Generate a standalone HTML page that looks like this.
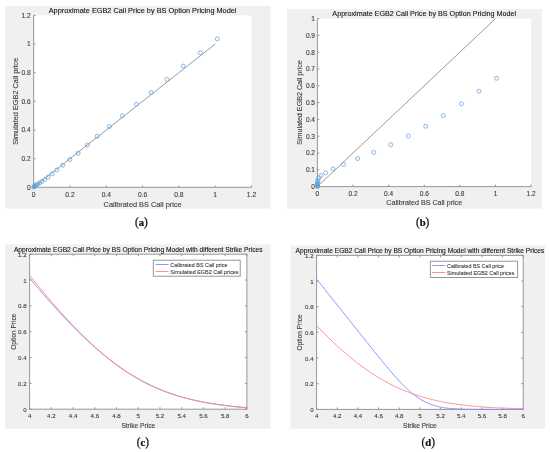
<!DOCTYPE html>
<html><head><meta charset="utf-8"><title>Figure</title>
<style>html,body{margin:0;padding:0;background:#fff;}svg{display:block;}text{stroke-width:0.1;}</style></head>
<body><svg width="550" height="452" viewBox="0 0 550 452">
<g>
<rect width="550" height="452" fill="#fff"/>
<rect x="5" y="5.8" width="265.6" height="202.79999999999998" fill="#f0f0f0"/>
<rect x="33.7" y="15.4" width="217.8" height="171.9" fill="#fff"/>
<g stroke="#8c8c8c" stroke-width="0.9" fill="none">
<path d="M33.7,15.4 L33.7,187.3 L251.5,187.3"/>
<path d="M33.70,187.3 l0,-2"/>
<path d="M70.00,187.3 l0,-2"/>
<path d="M106.30,187.3 l0,-2"/>
<path d="M142.60,187.3 l0,-2"/>
<path d="M178.90,187.3 l0,-2"/>
<path d="M215.20,187.3 l0,-2"/>
<path d="M251.50,187.3 l0,-2"/>
<path d="M33.7,187.30 l2,0"/>
<path d="M33.7,158.65 l2,0"/>
<path d="M33.7,130.00 l2,0"/>
<path d="M33.7,101.35 l2,0"/>
<path d="M33.7,72.70 l2,0"/>
<path d="M33.7,44.05 l2,0"/>
<path d="M33.7,15.40 l2,0"/>
</g>
<svg x="32.7" y="14.4" width="219.8" height="173.9" viewBox="32.7 14.4 219.8 173.9" overflow="hidden">
<path d="M33.70,187.30 L215.20,44.05" fill="none" stroke="#555" stroke-width="0.6" stroke-linejoin="round"/>
</svg>
<circle cx="217.38" cy="38.89" r="2.0" fill="none" stroke="#5fa2dc" stroke-width="0.75"/>
<circle cx="200.32" cy="52.79" r="2.0" fill="none" stroke="#5fa2dc" stroke-width="0.75"/>
<circle cx="183.26" cy="66.11" r="2.0" fill="none" stroke="#5fa2dc" stroke-width="0.75"/>
<circle cx="166.92" cy="79.43" r="2.0" fill="none" stroke="#5fa2dc" stroke-width="0.75"/>
<circle cx="151.13" cy="92.47" r="2.0" fill="none" stroke="#5fa2dc" stroke-width="0.75"/>
<circle cx="136.43" cy="104.22" r="2.0" fill="none" stroke="#5fa2dc" stroke-width="0.75"/>
<circle cx="122.27" cy="115.82" r="2.0" fill="none" stroke="#5fa2dc" stroke-width="0.75"/>
<circle cx="109.39" cy="126.56" r="2.0" fill="none" stroke="#5fa2dc" stroke-width="0.75"/>
<circle cx="97.23" cy="136.30" r="2.0" fill="none" stroke="#5fa2dc" stroke-width="0.75"/>
<circle cx="87.24" cy="145.04" r="2.0" fill="none" stroke="#5fa2dc" stroke-width="0.75"/>
<circle cx="78.17" cy="153.21" r="2.0" fill="none" stroke="#5fa2dc" stroke-width="0.75"/>
<circle cx="69.82" cy="159.51" r="2.0" fill="none" stroke="#5fa2dc" stroke-width="0.75"/>
<circle cx="62.74" cy="165.24" r="2.0" fill="none" stroke="#5fa2dc" stroke-width="0.75"/>
<circle cx="56.93" cy="169.97" r="2.0" fill="none" stroke="#5fa2dc" stroke-width="0.75"/>
<circle cx="52.21" cy="173.83" r="2.0" fill="none" stroke="#5fa2dc" stroke-width="0.75"/>
<circle cx="48.04" cy="177.13" r="2.0" fill="none" stroke="#5fa2dc" stroke-width="0.75"/>
<circle cx="44.77" cy="179.42" r="2.0" fill="none" stroke="#5fa2dc" stroke-width="0.75"/>
<circle cx="41.87" cy="181.43" r="2.0" fill="none" stroke="#5fa2dc" stroke-width="0.75"/>
<circle cx="39.69" cy="182.86" r="2.0" fill="none" stroke="#5fa2dc" stroke-width="0.75"/>
<circle cx="37.69" cy="184.01" r="2.0" fill="none" stroke="#5fa2dc" stroke-width="0.75"/>
<circle cx="36.24" cy="184.86" r="2.0" fill="none" stroke="#5fa2dc" stroke-width="0.75"/>
<circle cx="35.33" cy="185.58" r="2.0" fill="none" stroke="#5fa2dc" stroke-width="0.75"/>
<circle cx="34.61" cy="186.15" r="2.0" fill="none" stroke="#5fa2dc" stroke-width="0.75"/>
<circle cx="34.24" cy="186.58" r="2.0" fill="none" stroke="#5fa2dc" stroke-width="0.75"/>
<circle cx="33.88" cy="187.01" r="2.0" fill="none" stroke="#5fa2dc" stroke-width="0.75"/>
<g font-family='"Liberation Sans", Arial, Helvetica, sans-serif' font-size="6.7" fill="#3a3a3a" stroke="#3a3a3a">
<text x="33.70" y="197.2" text-anchor="middle">0</text>
<text x="70.00" y="197.2" text-anchor="middle">0.2</text>
<text x="106.30" y="197.2" text-anchor="middle">0.4</text>
<text x="142.60" y="197.2" text-anchor="middle">0.6</text>
<text x="178.90" y="197.2" text-anchor="middle">0.8</text>
<text x="215.20" y="197.2" text-anchor="middle">1</text>
<text x="251.50" y="197.2" text-anchor="middle">1.2</text>
<text x="30.700000000000003" y="189.70" text-anchor="end">0</text>
<text x="30.700000000000003" y="161.05" text-anchor="end">0.2</text>
<text x="30.700000000000003" y="132.40" text-anchor="end">0.4</text>
<text x="30.700000000000003" y="103.75" text-anchor="end">0.6</text>
<text x="30.700000000000003" y="75.10" text-anchor="end">0.8</text>
<text x="30.700000000000003" y="46.45" text-anchor="end">1</text>
<text x="30.700000000000003" y="17.80" text-anchor="end">1.2</text>
</g>
<g font-family='"Liberation Sans", Arial, Helvetica, sans-serif' font-size="7.35" fill="#3a3a3a" stroke="#3a3a3a" text-anchor="middle">
<text x="142.6" y="206.8">Calibrated BS Call price</text>
<text transform="translate(17.9,101.35000000000001) rotate(-90)" x="0" y="0">Simulated EGB2 Call price</text>
</g>
<text x="142.6" y="12.6" font-family='"Liberation Sans", Arial, Helvetica, sans-serif' font-size="7.33" fill="#111" stroke="#111" text-anchor="middle">Approximate EGB2 Call Price by BS Option Pricing Model</text>
<text transform="translate(141.3,225.9) scale(0.97,1)" x="0" y="0" font-family='"Liberation Serif", "Times New Roman", serif' font-size="11.6" fill="#111" stroke="#111" style="stroke-width:0.25" text-anchor="middle">(<tspan font-weight="700" font-size="11">a</tspan>)</text>
<rect x="287" y="9" width="255" height="199.6" fill="#f0f0f0"/>
<rect x="317.4" y="18.6" width="213.70000000000005" height="168.0" fill="#fff"/>
<g stroke="#8c8c8c" stroke-width="0.9" fill="none">
<path d="M317.4,18.6 L317.4,186.6 L531.1,186.6"/>
<path d="M317.40,186.6 l0,-2"/>
<path d="M353.02,186.6 l0,-2"/>
<path d="M388.63,186.6 l0,-2"/>
<path d="M424.25,186.6 l0,-2"/>
<path d="M459.87,186.6 l0,-2"/>
<path d="M495.48,186.6 l0,-2"/>
<path d="M531.10,186.6 l0,-2"/>
<path d="M317.4,186.60 l2,0"/>
<path d="M317.4,169.80 l2,0"/>
<path d="M317.4,153.00 l2,0"/>
<path d="M317.4,136.20 l2,0"/>
<path d="M317.4,119.40 l2,0"/>
<path d="M317.4,102.60 l2,0"/>
<path d="M317.4,85.80 l2,0"/>
<path d="M317.4,69.00 l2,0"/>
<path d="M317.4,52.20 l2,0"/>
<path d="M317.4,35.40 l2,0"/>
<path d="M317.4,18.60 l2,0"/>
</g>
<svg x="316.4" y="17.6" width="215.70000000000005" height="170.0" viewBox="316.4 17.6 215.70000000000005 170.0" overflow="hidden">
<path d="M317.40,186.60 L495.48,18.60" fill="none" stroke="#555" stroke-width="0.6" stroke-linejoin="round"/>
</svg>
<circle cx="496.44" cy="78.24" r="2.0" fill="none" stroke="#5fa2dc" stroke-width="0.75"/>
<circle cx="479.03" cy="91.18" r="2.0" fill="none" stroke="#5fa2dc" stroke-width="0.75"/>
<circle cx="461.45" cy="103.78" r="2.0" fill="none" stroke="#5fa2dc" stroke-width="0.75"/>
<circle cx="443.32" cy="115.54" r="2.0" fill="none" stroke="#5fa2dc" stroke-width="0.75"/>
<circle cx="425.73" cy="126.29" r="2.0" fill="none" stroke="#5fa2dc" stroke-width="0.75"/>
<circle cx="408.32" cy="136.03" r="2.0" fill="none" stroke="#5fa2dc" stroke-width="0.75"/>
<circle cx="390.73" cy="144.77" r="2.0" fill="none" stroke="#5fa2dc" stroke-width="0.75"/>
<circle cx="373.68" cy="152.33" r="2.0" fill="none" stroke="#5fa2dc" stroke-width="0.75"/>
<circle cx="357.70" cy="158.54" r="2.0" fill="none" stroke="#5fa2dc" stroke-width="0.75"/>
<circle cx="343.53" cy="164.42" r="2.0" fill="none" stroke="#5fa2dc" stroke-width="0.75"/>
<circle cx="332.94" cy="168.96" r="2.0" fill="none" stroke="#5fa2dc" stroke-width="0.75"/>
<circle cx="325.58" cy="172.82" r="2.0" fill="none" stroke="#5fa2dc" stroke-width="0.75"/>
<circle cx="320.91" cy="175.51" r="2.0" fill="none" stroke="#5fa2dc" stroke-width="0.75"/>
<circle cx="318.76" cy="177.86" r="2.0" fill="none" stroke="#5fa2dc" stroke-width="0.75"/>
<circle cx="318.04" cy="179.88" r="2.0" fill="none" stroke="#5fa2dc" stroke-width="0.75"/>
<circle cx="317.68" cy="181.56" r="2.0" fill="none" stroke="#5fa2dc" stroke-width="0.75"/>
<circle cx="317.50" cy="182.90" r="2.0" fill="none" stroke="#5fa2dc" stroke-width="0.75"/>
<circle cx="317.50" cy="184.08" r="2.0" fill="none" stroke="#5fa2dc" stroke-width="0.75"/>
<circle cx="317.50" cy="184.92" r="2.0" fill="none" stroke="#5fa2dc" stroke-width="0.75"/>
<circle cx="317.50" cy="185.59" r="2.0" fill="none" stroke="#5fa2dc" stroke-width="0.75"/>
<circle cx="317.50" cy="186.10" r="2.0" fill="none" stroke="#5fa2dc" stroke-width="0.75"/>
<circle cx="317.50" cy="186.43" r="2.0" fill="none" stroke="#5fa2dc" stroke-width="0.75"/>
<g font-family='"Liberation Sans", Arial, Helvetica, sans-serif' font-size="6.55" fill="#3a3a3a" stroke="#3a3a3a">
<text x="317.40" y="195.6" text-anchor="middle">0</text>
<text x="353.02" y="195.6" text-anchor="middle">0.2</text>
<text x="388.63" y="195.6" text-anchor="middle">0.4</text>
<text x="424.25" y="195.6" text-anchor="middle">0.6</text>
<text x="459.87" y="195.6" text-anchor="middle">0.8</text>
<text x="495.48" y="195.6" text-anchor="middle">1</text>
<text x="531.10" y="195.6" text-anchor="middle">1.2</text>
<text x="315.0" y="189.00" text-anchor="end">0</text>
<text x="315.0" y="172.20" text-anchor="end">0.1</text>
<text x="315.0" y="155.40" text-anchor="end">0.2</text>
<text x="315.0" y="138.60" text-anchor="end">0.3</text>
<text x="315.0" y="121.80" text-anchor="end">0.4</text>
<text x="315.0" y="105.00" text-anchor="end">0.5</text>
<text x="315.0" y="88.20" text-anchor="end">0.6</text>
<text x="315.0" y="71.40" text-anchor="end">0.7</text>
<text x="315.0" y="54.60" text-anchor="end">0.8</text>
<text x="315.0" y="37.80" text-anchor="end">0.9</text>
<text x="315.0" y="21.00" text-anchor="end">1</text>
</g>
<g font-family='"Liberation Sans", Arial, Helvetica, sans-serif' font-size="7.15" fill="#3a3a3a" stroke="#3a3a3a" text-anchor="middle">
<text x="424.25" y="205.2">Calibrated BS Call price</text>
<text transform="translate(302.3,102.6) rotate(-90)" x="0" y="0">Simulated EGB2 Call price</text>
</g>
<text x="424.25" y="15.6" font-family='"Liberation Sans", Arial, Helvetica, sans-serif' font-size="7.18" fill="#111" stroke="#111" text-anchor="middle">Approximate EGB2 Call Price by BS Option Pricing Model</text>
<text transform="translate(422.6,225.9) scale(0.97,1)" x="0" y="0" font-family='"Liberation Serif", "Times New Roman", serif' font-size="11.6" fill="#111" stroke="#111" style="stroke-width:0.25" text-anchor="middle">(<tspan font-weight="700" font-size="11">b</tspan>)</text>
<rect x="5" y="244.4" width="265.6" height="184.4" fill="#f0f0f0"/>
<rect x="29.6" y="254.2" width="217.3" height="155.0" fill="#fff"/>
<g stroke="#8c8c8c" stroke-width="0.9" fill="none">
<path d="M29.6,254.2 L29.6,409.2 L246.9,409.2"/>
<path d="M29.6,254.2 L246.9,254.2 L246.9,409.2"/>
<path d="M29.60,409.2 l0,-2"/>
<path d="M29.60,254.2 l0,2"/>
<path d="M51.33,409.2 l0,-2"/>
<path d="M51.33,254.2 l0,2"/>
<path d="M73.06,409.2 l0,-2"/>
<path d="M73.06,254.2 l0,2"/>
<path d="M94.79,409.2 l0,-2"/>
<path d="M94.79,254.2 l0,2"/>
<path d="M116.52,409.2 l0,-2"/>
<path d="M116.52,254.2 l0,2"/>
<path d="M138.25,409.2 l0,-2"/>
<path d="M138.25,254.2 l0,2"/>
<path d="M159.98,409.2 l0,-2"/>
<path d="M159.98,254.2 l0,2"/>
<path d="M181.71,409.2 l0,-2"/>
<path d="M181.71,254.2 l0,2"/>
<path d="M203.44,409.2 l0,-2"/>
<path d="M203.44,254.2 l0,2"/>
<path d="M225.17,409.2 l0,-2"/>
<path d="M225.17,254.2 l0,2"/>
<path d="M246.90,409.2 l0,-2"/>
<path d="M246.90,254.2 l0,2"/>
<path d="M29.6,409.20 l2,0"/>
<path d="M246.9,409.20 l-2,0"/>
<path d="M29.6,383.37 l2,0"/>
<path d="M246.9,383.37 l-2,0"/>
<path d="M29.6,357.53 l2,0"/>
<path d="M246.9,357.53 l-2,0"/>
<path d="M29.6,331.70 l2,0"/>
<path d="M246.9,331.70 l-2,0"/>
<path d="M29.6,305.87 l2,0"/>
<path d="M246.9,305.87 l-2,0"/>
<path d="M29.6,280.03 l2,0"/>
<path d="M246.9,280.03 l-2,0"/>
<path d="M29.6,254.20 l2,0"/>
<path d="M246.9,254.20 l-2,0"/>
</g>
<svg x="28.6" y="253.2" width="219.3" height="157.0" viewBox="28.6 253.2 219.3 157.0" overflow="hidden">
<path d="M29.60,278.23 L30.69,279.51 L31.77,280.79 L32.86,282.06 L33.95,283.34 L35.03,284.61 L36.12,285.88 L37.21,287.14 L38.29,288.40 L39.38,289.66 L40.46,290.92 L41.55,292.17 L42.64,293.42 L43.72,294.66 L44.81,295.91 L45.90,297.14 L46.98,298.38 L48.07,299.61 L49.16,300.83 L50.24,302.05 L51.33,303.27 L52.42,304.48 L53.50,305.69 L54.59,306.89 L55.68,308.09 L56.76,309.29 L57.85,310.48 L58.94,311.66 L60.02,312.84 L61.11,314.01 L62.19,315.18 L63.28,316.35 L64.37,317.50 L65.45,318.66 L66.54,319.80 L67.63,320.94 L68.71,322.08 L69.80,323.21 L70.89,324.33 L71.97,325.45 L73.06,326.56 L74.15,327.66 L75.23,328.76 L76.32,329.85 L77.41,330.94 L78.49,332.01 L79.58,333.08 L80.67,334.15 L81.75,335.20 L82.84,336.25 L83.93,337.30 L85.01,338.33 L86.10,339.36 L87.18,340.38 L88.27,341.39 L89.36,342.40 L90.44,343.39 L91.53,344.38 L92.62,345.37 L93.70,346.34 L94.79,347.31 L95.88,348.26 L96.96,349.21 L98.05,350.15 L99.14,351.09 L100.22,352.01 L101.31,352.93 L102.40,353.84 L103.48,354.73 L104.57,355.63 L105.66,356.51 L106.74,357.38 L107.83,358.25 L108.91,359.10 L110.00,359.95 L111.09,360.79 L112.17,361.62 L113.26,362.44 L114.35,363.25 L115.43,364.06 L116.52,364.85 L117.61,365.64 L118.69,366.41 L119.78,367.18 L120.87,367.94 L121.95,368.69 L123.04,369.43 L124.13,370.16 L125.21,370.88 L126.30,371.60 L127.39,372.30 L128.47,373.00 L129.56,373.69 L130.64,374.36 L131.73,375.03 L132.82,375.69 L133.90,376.34 L134.99,376.99 L136.08,377.62 L137.16,378.25 L138.25,378.86 L139.34,379.47 L140.42,380.07 L141.51,380.66 L142.60,381.24 L143.68,381.81 L144.77,382.38 L145.86,382.93 L146.94,383.48 L148.03,384.02 L149.11,384.55 L150.20,385.07 L151.29,385.59 L152.37,386.09 L153.46,386.59 L154.55,387.08 L155.63,387.57 L156.72,388.04 L157.81,388.51 L158.89,388.97 L159.98,389.42 L161.07,389.86 L162.15,390.30 L163.24,390.72 L164.33,391.15 L165.41,391.56 L166.50,391.97 L167.59,392.37 L168.67,392.76 L169.76,393.14 L170.84,393.52 L171.93,393.89 L173.02,394.26 L174.10,394.62 L175.19,394.97 L176.28,395.31 L177.36,395.65 L178.45,395.98 L179.54,396.31 L180.62,396.63 L181.71,396.94 L182.80,397.25 L183.88,397.55 L184.97,397.85 L186.06,398.14 L187.14,398.42 L188.23,398.70 L189.32,398.97 L190.40,399.24 L191.49,399.51 L192.58,399.76 L193.66,400.02 L194.75,400.26 L195.83,400.51 L196.92,400.74 L198.01,400.98 L199.09,401.20 L200.18,401.43 L201.27,401.65 L202.35,401.86 L203.44,402.07 L204.53,402.28 L205.61,402.48 L206.70,402.68 L207.79,402.87 L208.87,403.06 L209.96,403.25 L211.05,403.43 L212.13,403.61 L213.22,403.78 L214.31,403.95 L215.39,404.12 L216.48,404.28 L217.56,404.45 L218.65,404.60 L219.74,404.76 L220.82,404.91 L221.91,405.06 L223.00,405.20 L224.08,405.35 L225.17,405.49 L226.26,405.62 L227.34,405.76 L228.43,405.89 L229.52,406.02 L230.60,406.15 L231.69,406.27 L232.78,406.39 L233.86,406.51 L234.95,406.63 L236.04,406.75 L237.12,406.86 L238.21,406.97 L239.29,407.08 L240.38,407.19 L241.47,407.30 L242.55,407.40 L243.64,407.50 L244.73,407.60 L245.81,407.70 L246.90,407.80" fill="none" stroke="#8888ff" stroke-width="0.95" stroke-linejoin="round"/>
<path d="M29.60,275.37 L30.69,276.71 L31.77,278.04 L32.86,279.37 L33.95,280.70 L35.03,282.02 L36.12,283.34 L37.21,284.66 L38.29,285.97 L39.38,287.28 L40.46,288.59 L41.55,289.89 L42.64,291.19 L43.72,292.48 L44.81,293.77 L45.90,295.06 L46.98,296.34 L48.07,297.62 L49.16,298.89 L50.24,300.15 L51.33,301.42 L52.42,302.68 L53.50,303.93 L54.59,305.18 L55.68,306.42 L56.76,307.66 L57.85,308.89 L58.94,310.11 L60.02,311.34 L61.11,312.55 L62.19,313.76 L63.28,314.96 L64.37,316.16 L65.45,317.35 L66.54,318.54 L67.63,319.71 L68.71,320.89 L69.80,322.05 L70.89,323.21 L71.97,324.36 L73.06,325.51 L74.15,326.65 L75.23,327.78 L76.32,328.90 L77.41,330.02 L78.49,331.13 L79.58,332.23 L80.67,333.32 L81.75,334.41 L82.84,335.49 L83.93,336.56 L85.01,337.62 L86.10,338.68 L87.18,339.72 L88.27,340.76 L89.36,341.79 L90.44,342.82 L91.53,343.83 L92.62,344.84 L93.70,345.83 L94.79,346.82 L95.88,347.80 L96.96,348.77 L98.05,349.73 L99.14,350.69 L100.22,351.63 L101.31,352.57 L102.40,353.50 L103.48,354.41 L104.57,355.32 L105.66,356.22 L106.74,357.11 L107.83,357.99 L108.91,358.87 L110.00,359.73 L111.09,360.58 L112.17,361.43 L113.26,362.26 L114.35,363.09 L115.43,363.91 L116.52,364.71 L117.61,365.51 L118.69,366.30 L119.78,367.08 L120.87,367.85 L121.95,368.61 L123.04,369.36 L124.13,370.10 L125.21,370.83 L126.30,371.55 L127.39,372.27 L128.47,372.97 L129.56,373.67 L130.64,374.35 L131.73,375.03 L132.82,375.70 L133.90,376.35 L134.99,377.00 L136.08,377.64 L137.16,378.27 L138.25,378.90 L139.34,379.51 L140.42,380.11 L141.51,380.71 L142.60,381.29 L143.68,381.87 L144.77,382.44 L145.86,383.00 L146.94,383.55 L148.03,384.09 L149.11,384.62 L150.20,385.15 L151.29,385.66 L152.37,386.17 L153.46,386.67 L154.55,387.17 L155.63,387.65 L156.72,388.12 L157.81,388.59 L158.89,389.05 L159.98,389.50 L161.07,389.95 L162.15,390.39 L163.24,390.81 L164.33,391.24 L165.41,391.65 L166.50,392.06 L167.59,392.45 L168.67,392.85 L169.76,393.23 L170.84,393.61 L171.93,393.98 L173.02,394.34 L174.10,394.70 L175.19,395.05 L176.28,395.40 L177.36,395.73 L178.45,396.06 L179.54,396.39 L180.62,396.71 L181.71,397.02 L182.80,397.33 L183.88,397.63 L184.97,397.92 L186.06,398.21 L187.14,398.49 L188.23,398.77 L189.32,399.04 L190.40,399.31 L191.49,399.57 L192.58,399.82 L193.66,400.08 L194.75,400.32 L195.83,400.56 L196.92,400.80 L198.01,401.03 L199.09,401.25 L200.18,401.48 L201.27,401.69 L202.35,401.90 L203.44,402.11 L204.53,402.32 L205.61,402.52 L206.70,402.71 L207.79,402.90 L208.87,403.09 L209.96,403.27 L211.05,403.45 L212.13,403.63 L213.22,403.80 L214.31,403.97 L215.39,404.13 L216.48,404.30 L217.56,404.46 L218.65,404.61 L219.74,404.76 L220.82,404.91 L221.91,405.06 L223.00,405.20 L224.08,405.34 L225.17,405.48 L226.26,405.61 L227.34,405.75 L228.43,405.87 L229.52,406.00 L230.60,406.13 L231.69,406.25 L232.78,406.37 L233.86,406.48 L234.95,406.60 L236.04,406.71 L237.12,406.82 L238.21,406.93 L239.29,407.04 L240.38,407.14 L241.47,407.25 L242.55,407.35 L243.64,407.45 L244.73,407.55 L245.81,407.64 L246.90,407.74" fill="none" stroke="#ff8888" stroke-width="0.95" stroke-linejoin="round"/>
</svg>
<g font-family='"Liberation Sans", Arial, Helvetica, sans-serif' font-size="6.1" fill="#3a3a3a" stroke="#3a3a3a">
<text x="29.60" y="417.8" text-anchor="middle">4</text>
<text x="51.33" y="417.8" text-anchor="middle">4.2</text>
<text x="73.06" y="417.8" text-anchor="middle">4.4</text>
<text x="94.79" y="417.8" text-anchor="middle">4.6</text>
<text x="116.52" y="417.8" text-anchor="middle">4.8</text>
<text x="138.25" y="417.8" text-anchor="middle">5</text>
<text x="159.98" y="417.8" text-anchor="middle">5.2</text>
<text x="181.71" y="417.8" text-anchor="middle">5.4</text>
<text x="203.44" y="417.8" text-anchor="middle">5.6</text>
<text x="225.17" y="417.8" text-anchor="middle">5.8</text>
<text x="246.90" y="417.8" text-anchor="middle">6</text>
<text x="26.6" y="411.80" text-anchor="end">0</text>
<text x="26.6" y="385.97" text-anchor="end">0.2</text>
<text x="26.6" y="360.13" text-anchor="end">0.4</text>
<text x="26.6" y="334.30" text-anchor="end">0.6</text>
<text x="26.6" y="308.47" text-anchor="end">0.8</text>
<text x="26.6" y="282.63" text-anchor="end">1</text>
<text x="26.6" y="256.80" text-anchor="end">1.2</text>
</g>
<g font-family='"Liberation Sans", Arial, Helvetica, sans-serif' font-size="6.6" fill="#3a3a3a" stroke="#3a3a3a" text-anchor="middle">
<text x="138.25" y="427.7">Strike Price</text>
<text transform="translate(15.8,331.7) rotate(-90)" x="0" y="0">Option Price</text>
</g>
<text x="138.25" y="252.3" font-family='"Liberation Sans", Arial, Helvetica, sans-serif' font-size="6.65" fill="#111" stroke="#111" text-anchor="middle">Approximate EGB2 Call Price by BS Option Pricing Model with different Strike Prices</text>
<rect x="153.3" y="260.2" width="86.89999999999998" height="16.0" fill="#fff" stroke="#8c8c8c" stroke-width="0.9"/>
<path d="M155.5,264.5 L168.6,264.5" stroke="#8080ff" stroke-width="0.85"/>
<text x="170.3" y="267.1" font-family='"Liberation Sans", Arial, Helvetica, sans-serif' font-size="6.0" textLength="57.2" lengthAdjust="spacingAndGlyphs" fill="#3a3a3a" stroke="#3a3a3a">Calibrated BS Call price</text>
<path d="M155.5,271.5 L168.6,271.5" stroke="#ff8080" stroke-width="0.85"/>
<text x="170.3" y="274.1" font-family='"Liberation Sans", Arial, Helvetica, sans-serif' font-size="6.0" textLength="68.3" lengthAdjust="spacingAndGlyphs" fill="#3a3a3a" stroke="#3a3a3a">Simulatied EGB2 Call prices</text>
<text transform="translate(142.9,446.2) scale(0.97,1)" x="0" y="0" font-family='"Liberation Serif", "Times New Roman", serif' font-size="11.6" fill="#111" stroke="#111" style="stroke-width:0.25" text-anchor="middle">(<tspan font-weight="700" font-size="11">c</tspan>)</text>
<rect x="290.5" y="245.6" width="254.70000000000005" height="183.20000000000002" fill="#f0f0f0"/>
<rect x="316.6" y="255.4" width="206.60000000000002" height="153.99999999999997" fill="#fff"/>
<g stroke="#8c8c8c" stroke-width="0.9" fill="none">
<path d="M316.6,255.4 L316.6,409.4 L523.2,409.4"/>
<path d="M316.6,255.4 L523.2,255.4 L523.2,409.4"/>
<path d="M316.60,409.4 l0,-2"/>
<path d="M316.60,255.4 l0,2"/>
<path d="M337.26,409.4 l0,-2"/>
<path d="M337.26,255.4 l0,2"/>
<path d="M357.92,409.4 l0,-2"/>
<path d="M357.92,255.4 l0,2"/>
<path d="M378.58,409.4 l0,-2"/>
<path d="M378.58,255.4 l0,2"/>
<path d="M399.24,409.4 l0,-2"/>
<path d="M399.24,255.4 l0,2"/>
<path d="M419.90,409.4 l0,-2"/>
<path d="M419.90,255.4 l0,2"/>
<path d="M440.56,409.4 l0,-2"/>
<path d="M440.56,255.4 l0,2"/>
<path d="M461.22,409.4 l0,-2"/>
<path d="M461.22,255.4 l0,2"/>
<path d="M481.88,409.4 l0,-2"/>
<path d="M481.88,255.4 l0,2"/>
<path d="M502.54,409.4 l0,-2"/>
<path d="M502.54,255.4 l0,2"/>
<path d="M523.20,409.4 l0,-2"/>
<path d="M523.20,255.4 l0,2"/>
<path d="M316.6,409.40 l2,0"/>
<path d="M523.2,409.40 l-2,0"/>
<path d="M316.6,383.73 l2,0"/>
<path d="M523.2,383.73 l-2,0"/>
<path d="M316.6,358.07 l2,0"/>
<path d="M523.2,358.07 l-2,0"/>
<path d="M316.6,332.40 l2,0"/>
<path d="M523.2,332.40 l-2,0"/>
<path d="M316.6,306.73 l2,0"/>
<path d="M523.2,306.73 l-2,0"/>
<path d="M316.6,281.07 l2,0"/>
<path d="M523.2,281.07 l-2,0"/>
<path d="M316.6,255.40 l2,0"/>
<path d="M523.2,255.40 l-2,0"/>
</g>
<svg x="315.6" y="254.4" width="208.60000000000002" height="155.99999999999997" viewBox="315.6 254.4 208.60000000000002 155.99999999999997" overflow="hidden">
<path d="M316.60,279.12 L317.63,280.41 L318.67,281.71 L319.70,283.01 L320.73,284.30 L321.76,285.60 L322.80,286.89 L323.83,288.19 L324.86,289.48 L325.90,290.78 L326.93,292.08 L327.96,293.37 L329.00,294.67 L330.03,295.96 L331.06,297.26 L332.10,298.55 L333.13,299.85 L334.16,301.14 L335.19,302.44 L336.23,303.74 L337.26,305.03 L338.29,306.33 L339.33,307.62 L340.36,308.92 L341.39,310.21 L342.43,311.51 L343.46,312.81 L344.49,314.10 L345.52,315.40 L346.56,316.69 L347.59,317.99 L348.62,319.28 L349.66,320.58 L350.69,321.87 L351.72,323.17 L352.75,324.46 L353.79,325.76 L354.82,327.06 L355.85,328.35 L356.89,329.65 L357.92,330.94 L358.95,332.24 L359.99,333.53 L361.02,334.82 L362.05,336.12 L363.09,337.41 L364.12,338.71 L365.15,340.00 L366.18,341.29 L367.22,342.58 L368.25,343.88 L369.28,345.17 L370.32,346.46 L371.35,347.74 L372.38,349.03 L373.42,350.32 L374.45,351.60 L375.48,352.88 L376.51,354.17 L377.55,355.44 L378.58,356.72 L379.61,357.99 L380.65,359.26 L381.68,360.53 L382.71,361.79 L383.75,363.04 L384.78,364.30 L385.81,365.54 L386.84,366.78 L387.88,368.02 L388.91,369.24 L389.94,370.46 L390.98,371.67 L392.01,372.87 L393.04,374.06 L394.08,375.24 L395.11,376.41 L396.14,377.56 L397.17,378.70 L398.21,379.83 L399.24,380.94 L400.27,382.04 L401.31,383.12 L402.34,384.18 L403.37,385.22 L404.40,386.25 L405.44,387.25 L406.47,388.24 L407.50,389.20 L408.54,390.14 L409.57,391.06 L410.60,391.95 L411.64,392.82 L412.67,393.67 L413.70,394.49 L414.74,395.29 L415.77,396.06 L416.80,396.80 L417.83,397.52 L418.87,398.21 L419.90,398.87 L420.93,399.51 L421.97,400.13 L423.00,400.71 L424.03,401.27 L425.06,401.81 L426.10,402.32 L427.13,402.80 L428.16,403.27 L429.20,403.70 L430.23,404.12 L431.26,404.51 L432.30,404.87 L433.33,405.22 L434.36,405.55 L435.40,405.85 L436.43,406.14 L437.46,406.41 L438.49,406.66 L439.53,406.89 L440.56,407.11 L441.59,407.31 L442.63,407.50 L443.66,407.67 L444.69,407.83 L445.73,407.98 L446.76,408.11 L447.79,408.23 L448.82,408.35 L449.86,408.45 L450.89,408.55 L451.92,408.63 L452.96,408.71 L453.99,408.79 L455.02,408.85 L456.06,408.91 L457.09,408.96 L458.12,409.01 L459.15,409.06 L460.19,409.09 L461.22,409.13 L462.25,409.16 L463.29,409.19 L464.32,409.21 L465.35,409.24 L466.39,409.26 L467.42,409.27 L468.45,409.29 L469.48,409.30 L470.52,409.32 L471.55,409.33 L472.58,409.34 L473.62,409.34 L474.65,409.35 L475.68,409.36 L476.72,409.36 L477.75,409.37 L478.78,409.37 L479.81,409.38 L480.85,409.38 L481.88,409.38 L482.91,409.39 L483.95,409.39 L484.98,409.39 L486.01,409.39 L487.05,409.39 L488.08,409.39 L489.11,409.39 L490.14,409.40 L491.18,409.40 L492.21,409.40 L493.24,409.40 L494.28,409.40 L495.31,409.40 L496.34,409.40 L497.38,409.40 L498.41,409.40 L499.44,409.40 L500.47,409.40 L501.51,409.40 L502.54,409.40 L503.57,409.40 L504.61,409.40 L505.64,409.40 L506.67,409.40 L507.71,409.40 L508.74,409.40 L509.77,409.40 L510.80,409.40 L511.84,409.40 L512.87,409.40 L513.90,409.40 L514.94,409.40 L515.97,409.40 L517.00,409.40 L518.04,409.40 L519.07,409.40 L520.10,409.40 L521.13,409.40 L522.17,409.40 L523.20,409.40" fill="none" stroke="#8888ff" stroke-width="0.95" stroke-linejoin="round"/>
<path d="M316.60,325.72 L317.63,326.79 L318.67,327.85 L319.70,328.91 L320.73,329.96 L321.76,331.01 L322.80,332.05 L323.83,333.08 L324.86,334.11 L325.90,335.14 L326.93,336.15 L327.96,337.16 L329.00,338.17 L330.03,339.17 L331.06,340.16 L332.10,341.14 L333.13,342.12 L334.16,343.09 L335.19,344.06 L336.23,345.02 L337.26,345.97 L338.29,346.91 L339.33,347.85 L340.36,348.78 L341.39,349.70 L342.43,350.62 L343.46,351.52 L344.49,352.42 L345.52,353.32 L346.56,354.20 L347.59,355.08 L348.62,355.95 L349.66,356.81 L350.69,357.66 L351.72,358.51 L352.75,359.34 L353.79,360.17 L354.82,361.00 L355.85,361.81 L356.89,362.61 L357.92,363.41 L358.95,364.20 L359.99,364.98 L361.02,365.75 L362.05,366.51 L363.09,367.27 L364.12,368.02 L365.15,368.76 L366.18,369.49 L367.22,370.21 L368.25,370.92 L369.28,371.62 L370.32,372.32 L371.35,373.01 L372.38,373.69 L373.42,374.36 L374.45,375.02 L375.48,375.67 L376.51,376.32 L377.55,376.96 L378.58,377.59 L379.61,378.21 L380.65,378.82 L381.68,379.42 L382.71,380.01 L383.75,380.60 L384.78,381.18 L385.81,381.75 L386.84,382.31 L387.88,382.86 L388.91,383.41 L389.94,383.95 L390.98,384.48 L392.01,385.00 L393.04,385.51 L394.08,386.01 L395.11,386.51 L396.14,387.00 L397.17,387.48 L398.21,387.95 L399.24,388.42 L400.27,388.88 L401.31,389.33 L402.34,389.77 L403.37,390.21 L404.40,390.64 L405.44,391.06 L406.47,391.47 L407.50,391.88 L408.54,392.27 L409.57,392.67 L410.60,393.05 L411.64,393.43 L412.67,393.80 L413.70,394.16 L414.74,394.52 L415.77,394.87 L416.80,395.22 L417.83,395.55 L418.87,395.88 L419.90,396.21 L420.93,396.53 L421.97,396.84 L423.00,397.14 L424.03,397.44 L425.06,397.74 L426.10,398.03 L427.13,398.31 L428.16,398.58 L429.20,398.86 L430.23,399.12 L431.26,399.38 L432.30,399.63 L433.33,399.88 L434.36,400.13 L435.40,400.36 L436.43,400.60 L437.46,400.83 L438.49,401.05 L439.53,401.27 L440.56,401.48 L441.59,401.69 L442.63,401.89 L443.66,402.09 L444.69,402.29 L445.73,402.48 L446.76,402.66 L447.79,402.84 L448.82,403.02 L449.86,403.20 L450.89,403.37 L451.92,403.53 L452.96,403.69 L453.99,403.85 L455.02,404.00 L456.06,404.15 L457.09,404.30 L458.12,404.44 L459.15,404.58 L460.19,404.72 L461.22,404.85 L462.25,404.98 L463.29,405.11 L464.32,405.23 L465.35,405.35 L466.39,405.47 L467.42,405.58 L468.45,405.69 L469.48,405.80 L470.52,405.90 L471.55,406.01 L472.58,406.11 L473.62,406.20 L474.65,406.30 L475.68,406.39 L476.72,406.48 L477.75,406.57 L478.78,406.65 L479.81,406.73 L480.85,406.82 L481.88,406.89 L482.91,406.97 L483.95,407.04 L484.98,407.12 L486.01,407.19 L487.05,407.25 L488.08,407.32 L489.11,407.38 L490.14,407.45 L491.18,407.51 L492.21,407.57 L493.24,407.62 L494.28,407.68 L495.31,407.73 L496.34,407.79 L497.38,407.84 L498.41,407.89 L499.44,407.94 L500.47,407.98 L501.51,408.03 L502.54,408.07 L503.57,408.11 L504.61,408.16 L505.64,408.20 L506.67,408.24 L507.71,408.27 L508.74,408.31 L509.77,408.35 L510.80,408.38 L511.84,408.41 L512.87,408.45 L513.90,408.48 L514.94,408.51 L515.97,408.54 L517.00,408.57 L518.04,408.59 L519.07,408.62 L520.10,408.65 L521.13,408.67 L522.17,408.70 L523.20,408.72" fill="none" stroke="#ff8888" stroke-width="0.95" stroke-linejoin="round"/>
</svg>
<g font-family='"Liberation Sans", Arial, Helvetica, sans-serif' font-size="6.1" fill="#3a3a3a" stroke="#3a3a3a">
<text x="316.60" y="417.8" text-anchor="middle">4</text>
<text x="337.26" y="417.8" text-anchor="middle">4.2</text>
<text x="357.92" y="417.8" text-anchor="middle">4.4</text>
<text x="378.58" y="417.8" text-anchor="middle">4.6</text>
<text x="399.24" y="417.8" text-anchor="middle">4.8</text>
<text x="419.90" y="417.8" text-anchor="middle">5</text>
<text x="440.56" y="417.8" text-anchor="middle">5.2</text>
<text x="461.22" y="417.8" text-anchor="middle">5.4</text>
<text x="481.88" y="417.8" text-anchor="middle">5.6</text>
<text x="502.54" y="417.8" text-anchor="middle">5.8</text>
<text x="523.20" y="417.8" text-anchor="middle">6</text>
<text x="313.6" y="412.00" text-anchor="end">0</text>
<text x="313.6" y="386.33" text-anchor="end">0.2</text>
<text x="313.6" y="360.67" text-anchor="end">0.4</text>
<text x="313.6" y="335.00" text-anchor="end">0.6</text>
<text x="313.6" y="309.33" text-anchor="end">0.8</text>
<text x="313.6" y="283.67" text-anchor="end">1</text>
<text x="313.6" y="258.00" text-anchor="end">1.2</text>
</g>
<g font-family='"Liberation Sans", Arial, Helvetica, sans-serif' font-size="6.6" fill="#3a3a3a" stroke="#3a3a3a" text-anchor="middle">
<text x="419.90000000000003" y="428.2">Strike Price</text>
<text transform="translate(302.1,332.4) rotate(-90)" x="0" y="0">Option Price</text>
</g>
<text x="419.90000000000003" y="253.2" font-family='"Liberation Sans", Arial, Helvetica, sans-serif' font-size="6.65" fill="#111" stroke="#111" text-anchor="middle">Approximate EGB2 Call Price by BS Option Pricing Model with different Strike Prices</text>
<rect x="430.3" y="261.2" width="87.30000000000001" height="16.30000000000001" fill="#fff" stroke="#8c8c8c" stroke-width="0.9"/>
<path d="M432.2,265.5 L445.4,265.5" stroke="#8080ff" stroke-width="0.85"/>
<text x="447" y="268.3" font-family='"Liberation Sans", Arial, Helvetica, sans-serif' font-size="6.0" textLength="57.0" lengthAdjust="spacingAndGlyphs" fill="#3a3a3a" stroke="#3a3a3a">Calibrated BS Call price</text>
<path d="M432.2,272.5 L445.4,272.5" stroke="#ff8080" stroke-width="0.85"/>
<text x="447" y="275.3" font-family='"Liberation Sans", Arial, Helvetica, sans-serif' font-size="6.0" textLength="67.4" lengthAdjust="spacingAndGlyphs" fill="#3a3a3a" stroke="#3a3a3a">Simulatied EGB2 Call prices</text>
<text transform="translate(428.3,446.2) scale(0.97,1)" x="0" y="0" font-family='"Liberation Serif", "Times New Roman", serif' font-size="11.6" fill="#111" stroke="#111" style="stroke-width:0.25" text-anchor="middle">(<tspan font-weight="700" font-size="11">d</tspan>)</text>
</g>
</svg></body></html>
